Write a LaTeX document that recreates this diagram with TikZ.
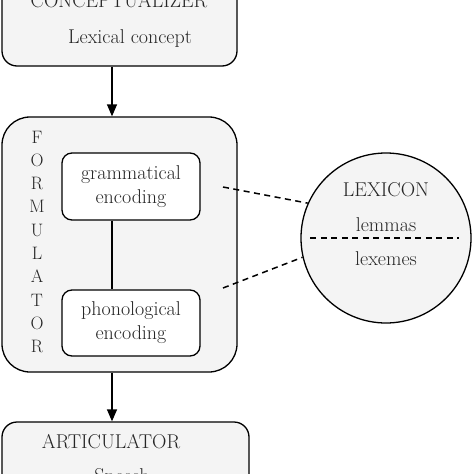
\documentclass[tikz,border=0pt]{standalone}
\usetikzlibrary{arrows.meta}
\definecolor{boxgray}{HTML}{F4F4F4}
\begin{document}
\begin{tikzpicture}[x=1pt,y=-1pt,line width=1.3pt,font=\fontsize{20}{24}\selectfont]
    \tikzstyle{stage}=[draw,fill=boxgray,rounded corners=15pt,inner sep=0pt]
    \tikzstyle{sub stage}=[draw,fill=white,rounded corners=10pt,align=center,minimum width=138pt,inner sep=0pt,text=black!85]
    \tikzstyle{lexicon}=[circle,draw,fill=boxgray,minimum size=170pt,inner sep=0pt]
    \tikzstyle{word}=[anchor=base,inner sep=0pt,text=black!85]
    \tikzstyle{flow}=[-{Triangle[width=10pt,length=12pt]}]
    \tikzstyle{link}=[dash pattern=on 6pt off 4.5pt,line width=1.5pt]
    \useasboundingbox (0,0) rectangle (474,474);
    \clip (0,0) rectangle (474,474);
    % Draw the three stages
      \node[stage, minimum width=235pt, minimum height=106pt] (C) at (119.5,13) {};
      \node[stage, rounded corners=28pt, minimum width=235pt, minimum height=255pt] (F) at (119.5,244.5) {};
      \node[stage, minimum width=247pt, minimum height=108pt] (A) at (125.5,476) {};
      \node[word] (Cname) at (119,7) {CONCEPTUALIZER};
      \node[word] (Cout) at (130,43) {Lexical concept};
      \node[word] (Aname) at (111,448) {ARTICULATOR};
      \node[word] (Aout) at (122,482) {Speech};
    % The formulator, letter by letter
      \foreach \l [count=\i] in {F,O,R,M,U,L,A,T,O,R}
        \node[word,font=\fontsize{18}{20}\selectfont] (f\i) at (37,{143+23.33*(\i-1)}) {\l};
      \node[sub stage, minimum height=67pt] (G) at (131,186.5) {grammatical\\encoding};
      \node[sub stage, minimum height=66pt] (P) at (131,323) {phonological\\encoding};
    % The lexicon
      \node[lexicon] (L) at (386,238) {};
      \node[word] (Lname) at (386,196) {LEXICON};
      \node[word] (lem) at (386,231) {lemmas};
      \node[word] (lex) at (386,265) {lexemes};
      \coordinate (g out) at (223,187);
      \coordinate (p out) at (223,288);

      \path ([xshift=-7.5pt]C.south) edge [flow] ([xshift=-7.5pt]F.north) ;
      \path ([xshift=-7.5pt]F.south) edge [flow] ([xshift=-13.5pt]A.north) ;
      \path ([xshift=-19pt]G.south) edge ([xshift=-19pt]P.north) ;
      \path (g out) edge [link] (L.156) ;
      \path (p out) edge [link] (L.193) ;
      \path ([xshift=10pt]L.west) edge [link] ([xshift=-13pt]L.east) ;
\end{tikzpicture}
\end{document}
